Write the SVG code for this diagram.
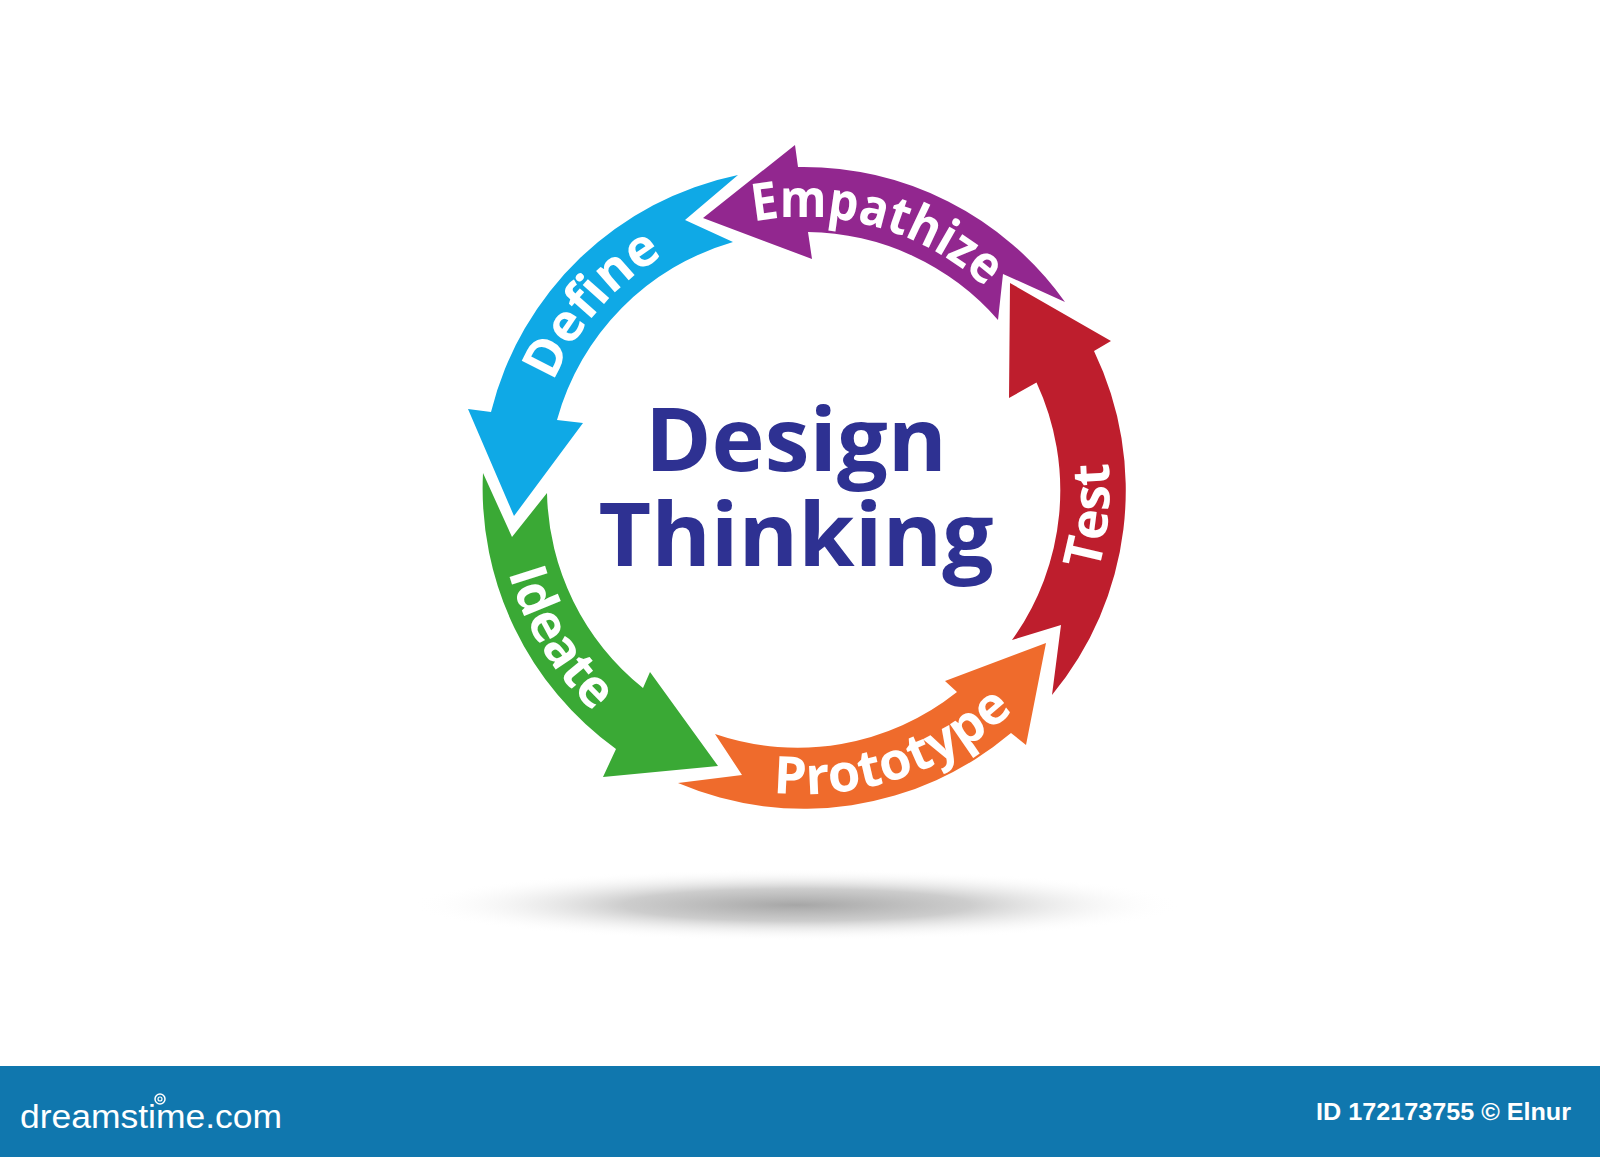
<svg xmlns="http://www.w3.org/2000/svg" xmlns:xlink="http://www.w3.org/1999/xlink" width="1600" height="1157" viewBox="0 0 1600 1157">
  <style>
    .lbl { font-family: "Open Sans", "Noto Sans", "DejaVu Sans", sans-serif; font-weight: 700; font-size: 52px; fill: #ffffff; }
    .title { font-family: "Open Sans", "Noto Sans", "DejaVu Sans", sans-serif; font-weight: 700; font-size: 88px; fill: #2e3192; }
    .foot { font-family: "Liberation Sans", "DejaVu Sans", sans-serif; fill: #ffffff; }
  </style>
  <defs>
    <radialGradient id="shadowGrad" cx="0.5" cy="0.5" r="0.5">
      <stop offset="0" stop-color="#a6a6a6" stop-opacity="1"/>
      <stop offset="0.45" stop-color="#c4c4c4" stop-opacity="0.85"/>
      <stop offset="1" stop-color="#ffffff" stop-opacity="0"/>
    </radialGradient>
    <path id="pEmpathize" d="M 699.3 237.6 A 271 271 0 0 1 1031.6 342.4"/>
    <path id="pDefine" d="M 532 483.3 A 271 271 0 0 1 760.6 220.3"/>
    <path id="pIdeate" d="M 500.4 442.8 A 304 304 0 0 0 705.9 778.2"/>
    <path id="pPrototype" d="M 690 772 A 304 304 0 0 0 1066.7 643.3"/>
    <path id="pTest" d="M 1017.5 706.3 A 304 304 0 0 0 1055.2 314.7"/>
  </defs>

  <rect x="0" y="0" width="1600" height="1157" fill="#ffffff"/>

  <ellipse cx="797" cy="905" rx="385" ry="36" fill="url(#shadowGrad)"/>

  <g id="connectors"></g>

  <g id="empathize">
    <path d="M 703 218 L 795 145 L 798 167 A 321 321 0 0 1 1065 302 L 1003 274 L 998 320 A 256 256 0 0 0 808 232 L 812 259 Z" fill="#92278f"/>
    <text class="lbl"><textPath href="#pEmpathize" startOffset="48%" text-anchor="middle" textLength="250" lengthAdjust="spacingAndGlyphs">Empathize</textPath></text>
  </g>

  <g id="define">
    <path d="M 514 516 L 468 409 L 491 412 A 321 321 0 0 1 738 175 L 685 220 L 733 242 A 256 256 0 0 0 557 420 L 583 423 Z" fill="#0fa9e6"/>
    <text class="lbl"><textPath href="#pDefine" startOffset="50%" text-anchor="middle">Define</textPath></text>
  </g>

  <g id="ideate">
    <path d="M 718 766 L 603 777 L 616 749 A 321 321 0 0 1 483 473 L 512 537 L 547 493 A 256 256 0 0 0 643 688 L 650 672 Z" fill="#3aa935"/>
    <text class="lbl"><textPath href="#pIdeate" startOffset="50%" text-anchor="middle">Ideate</textPath></text>
  </g>

  <g id="prototype">
    <path d="M 1046 643 L 1026 745 L 1011 733 A 321 321 0 0 1 678 783 L 742 775 L 715 734 A 256 256 0 0 0 957 692 L 945 681 Z" fill="#ef6b2c"/>
    <text class="lbl"><textPath href="#pPrototype" startOffset="50%" text-anchor="middle" textLength="262" lengthAdjust="spacingAndGlyphs">Prototype</textPath></text>
  </g>

  <g id="test">
    <path d="M 1010 283 L 1111 341 L 1094 351 A 321 321 0 0 1 1052 695 L 1061 625 L 1012 640 A 256 256 0 0 0 1036.5 382.6 L 1009 398 Z" fill="#be1e2d"/>
    <text class="lbl"><textPath href="#pTest" startOffset="50%" text-anchor="middle">Test</textPath></text>
  </g>

  <g id="title">
    <text class="title" x="796" y="471" text-anchor="middle" textLength="302" lengthAdjust="spacingAndGlyphs">Design</text>
    <text class="title" x="796" y="566" text-anchor="middle" textLength="395" lengthAdjust="spacingAndGlyphs">Thinking</text>
  </g>

  <g id="footer">
    <rect x="0" y="1066" width="1600" height="91" fill="#1077ae"/>
    <text class="foot" x="20" y="1128" font-size="33" textLength="262" lengthAdjust="spacingAndGlyphs">dreamstime.com</text>
    <circle cx="160" cy="1099" r="5" fill="none" stroke="#ffffff" stroke-width="1.5"/>
    <circle cx="160" cy="1099" r="2" fill="none" stroke="#ffffff" stroke-width="1.2"/>
    <text class="foot" x="1571" y="1120" font-size="24" font-weight="700" text-anchor="end" textLength="255" lengthAdjust="spacingAndGlyphs">ID 172173755 © Elnur</text>
  </g>
</svg>
